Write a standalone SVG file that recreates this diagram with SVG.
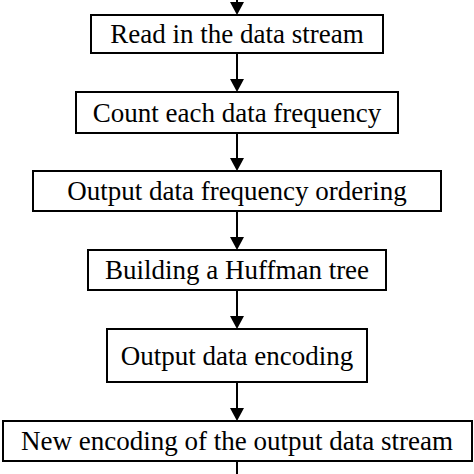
<svg xmlns="http://www.w3.org/2000/svg" width="474" height="474" viewBox="0 0 474 474">
<style>
.box{fill:#fff;stroke:#000;stroke-width:2}
.lbl{font-family:"Liberation Serif","Times New Roman",serif;font-size:27px;fill:#000;text-anchor:middle}
.ln{stroke:#000;stroke-width:2;fill:none}
.hd{fill:#000}
</style>
<rect width="474" height="474" fill="#fff"/>
<g id="connectors">
<line class="ln" x1="237" y1="0" x2="237" y2="4"/>
<polygon class="hd" points="230,2 244,2 237,15"/>
<line class="ln" x1="237" y1="53" x2="237" y2="80"/>
<polygon class="hd" points="230,79 244,79 237,92"/>
<line class="ln" x1="237" y1="133" x2="237" y2="159"/>
<polygon class="hd" points="230,158 244,158 237,171"/>
<line class="ln" x1="237" y1="211" x2="237" y2="238"/>
<polygon class="hd" points="230,237 244,237 237,250"/>
<line class="ln" x1="237" y1="290" x2="237" y2="317"/>
<polygon class="hd" points="230,316 244,316 237,329"/>
<line class="ln" x1="237" y1="382" x2="237" y2="409"/>
<polygon class="hd" points="230,408 244,408 237,421"/>
<line class="ln" x1="237" y1="461" x2="237" y2="474"/>
</g>
<g id="n1"><rect class="box" x="91" y="15" width="292" height="38"/><text class="lbl" x="237" y="43">Read in the data stream</text></g>
<g id="n2"><rect class="box" x="76" y="92" width="322" height="41"/><text class="lbl" x="237" y="122">Count each data frequency</text></g>
<g id="n3"><rect class="box" x="33" y="171" width="408" height="40"/><text class="lbl" x="237" y="200">Output data frequency ordering</text></g>
<g id="n4"><rect class="box" x="88" y="250" width="298" height="40"/><text class="lbl" x="237" y="279">Building a Huffman tree</text></g>
<g id="n5"><rect class="box" x="107" y="329" width="260" height="53"/><text class="lbl" x="237" y="365">Output data encoding</text></g>
<g id="n6"><rect class="box" x="3" y="421" width="469" height="40"/><text class="lbl" x="237" y="450">New encoding of the output data stream</text></g>
</svg>
